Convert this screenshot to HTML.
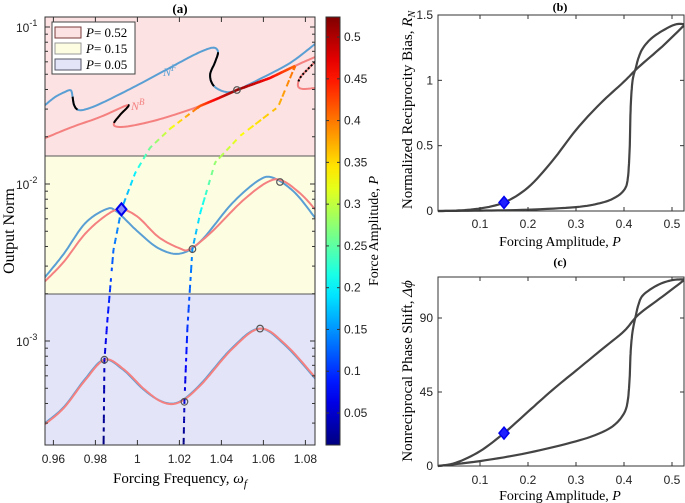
<!DOCTYPE html>
<html><head><meta charset="utf-8"><style>
html,body{margin:0;padding:0;background:#fff;}
svg{display:block;font-family:"Liberation Sans",sans-serif;}
.serif{font-family:"Liberation Serif",serif;}
</style></head><body>
<svg id="fig" width="685" height="503" viewBox="0 0 685 503" xmlns="http://www.w3.org/2000/svg">
<g id="pa">
 <rect x="45" y="17" width="270" height="139" fill="#fce2e2"/>
 <rect x="45" y="156" width="270" height="138" fill="#fdfde2"/>
 <rect x="45" y="294" width="270" height="151" fill="#e4e4f9"/>
 <line x1="45" y1="156" x2="315" y2="156" stroke="#555" stroke-width="1"/>
 <line x1="45" y1="294" x2="315" y2="294" stroke="#555" stroke-width="1"/>
</g>
<text x="180" y="13" text-anchor="middle" class="serif" font-weight="bold" font-size="13">(a)</text>
<text x="560" y="11" text-anchor="middle" class="serif" font-weight="bold" font-size="12">(b)</text>
<text x="560" y="266" text-anchor="middle" class="serif" font-weight="bold" font-size="12">(c)</text>
<text transform="translate(14,231) rotate(-90)" text-anchor="middle" class="serif" font-size="16">Output Norm</text>
<text x="180" y="483" text-anchor="middle" class="serif" font-size="15">Forcing Frequency, <tspan font-style="italic">ω</tspan><tspan font-style="italic" font-size="11" dy="4">f</tspan></text>
<text transform="translate(378,231) rotate(-90)" text-anchor="middle" class="serif" font-size="14">Force Amplitude,  <tspan font-style="italic">P</tspan></text>
<text transform="translate(412,110) rotate(-90)" text-anchor="middle" class="serif" font-size="15">Normalized Reciprocity Bias,  <tspan font-style="italic">R</tspan><tspan font-style="italic" font-size="10" dy="3">N</tspan></text>
<text x="560" y="246" text-anchor="middle" class="serif" font-size="14">Forcing Amplitude,  <tspan font-style="italic">P</tspan></text>
<text transform="translate(412,371) rotate(-90)" text-anchor="middle" class="serif" font-size="15">Nonreciprocal Phase Shift,  <tspan font-style="italic">Δϕ</tspan></text>
<text x="560" y="500" text-anchor="middle" class="serif" font-size="14">Forcing Amplitude,  <tspan font-style="italic">P</tspan></text>
<g id="dyn"></g>
</svg>
<script>
// ---------- data ----------
const xTicksA=[0.96,0.98,1.00,1.02,1.04,1.06,1.08];
const xTickLabelsA=["0.96","0.98","1","1.02","1.04","1.06","1.08"];
const yDecadesA=[-3,-2,-1];
const cbTicks=[0.05,0.1,0.15,0.2,0.25,0.3,0.35,0.4,0.45,0.5];
// P=0.05
const w005B=[0.956,0.965,0.975,0.984,0.993,1.003,1.012,1.020,1.030,1.045,1.058,1.070,1.085];
const n005B=[3.0e-4,3.8e-4,5.7e-4,7.6e-4,6.6e-4,4.9e-4,4.1e-4,4.1e-4,5.3e-4,9.0e-4,1.2e-3,9.5e-4,5.7e-4];
const w005R=[0.956,0.965,0.975,0.9845,0.9935,1.0035,1.0125,1.0205,1.0305,1.0455,1.0585,1.0705,1.085];
const n005R=[2.95e-4,3.75e-4,5.6e-4,7.6e-4,6.6e-4,4.9e-4,4.05e-4,4.1e-4,5.3e-4,9.0e-4,1.2e-3,9.5e-4,5.8e-4];
// P=0.15
const w015B=[0.956,0.965,0.975,0.985,0.990,1.000,1.010,1.020,1.030,1.045,1.058,1.065,1.075,1.085];
const n015B=[2.55e-3,3.6e-3,5.6e-3,6.9e-3,6.7e-3,5.0e-3,3.9e-3,3.6e-3,4.3e-3,7.5e-3,1.06e-2,1.09e-2,8.8e-3,6.0e-3];
const w015R=[0.956,0.965,0.975,0.985,0.992,1.000,1.010,1.020,1.025,1.035,1.050,1.062,1.069,1.078,1.085];
const n015R=[2.4e-3,3.2e-3,4.8e-3,6.3e-3,6.9e-3,6.2e-3,4.6e-3,3.9e-3,3.85e-3,4.9e-3,7.8e-3,1.03e-2,1.05e-2,8.6e-3,6.8e-3];
// P=0.52 forward (N^F)
const w052B=[0.956,0.9608,0.9655,0.9683,0.9691,0.9698,0.9715,0.9750,0.9822,0.9965,1.0108,1.0250,1.0322,1.0366,1.0384,1.0370,1.0346,1.0365,1.0420,1.0474,1.0584,1.0727,1.0846];
const n052B=[0.0318,0.0358,0.0386,0.0395,0.0360,0.0320,0.0298,0.0298,0.0324,0.0403,0.0509,0.0644,0.0714,0.0738,0.0690,0.0598,0.0494,0.0420,0.0386,0.0397,0.0467,0.0590,0.0780];
const fold052B=[[4,6],[14,17]];
// P=0.52 backward (N^B)
const w052R=[0.956,0.9679,0.9822,0.9955,0.9917,0.9889,0.9900,0.9965,1.0108,1.0298,1.0474,1.0631,1.0750,1.0846];
const n052R=[0.0196,0.0228,0.0267,0.0318,0.0275,0.0245,0.0232,0.0234,0.0259,0.0314,0.0397,0.0473,0.0565,0.0644];
const fold052R=[[3,5]];
const w052R2=[1.0846,1.0812,1.0774,1.0765,1.0789,1.0846];
const n052R2=[0.0600,0.0540,0.0473,0.0420,0.0403,0.0409];
// backbone loci (omega, N, P)
const wL1=[0.9839,0.9843,0.9857,0.9886,0.9924,0.9990,1.0060,1.0156,1.0298,1.0393,1.0474];
const nL1=[2.2e-4,7.6e-4,1.35e-3,3.8e-3,6.9e-3,1.18e-2,1.70e-2,2.25e-2,0.0314,0.0355,0.0397];
const pL1=[0.012,0.05,0.08,0.13,0.15,0.20,0.26,0.32,0.42,0.48,0.52];
const wL2=[1.0220,1.0224,1.0238,1.0262,1.0300,1.0370,1.0490,1.0670,1.0751,1.0631,1.0474];
const nL2=[2.2e-4,4.1e-4,1.2e-3,3.85e-3,6.6e-3,1.37e-2,2.03e-2,3.1e-2,0.0565,0.0473,0.0397];
const pL2=[0.012,0.05,0.10,0.15,0.20,0.28,0.33,0.37,0.41,0.46,0.52];
const circW=[0.9843,1.0224,1.0584,1.0262,1.0679,1.0474];
const circN=[7.6e-4,4.1e-4,1.2e-3,3.85e-3,1.03e-2,0.0397];
const diamW=[0.9924]; const diamN=[6.9e-3];
// panel b
const bP1=[0.0125,0.05,0.10,0.15,0.20,0.25,0.30,0.35,0.40,0.43,0.48,0.525];
const bR1=[0,0.003,0.02,0.065,0.18,0.38,0.62,0.82,0.99,1.10,1.26,1.42];
const bP2=[0.0125,0.10,0.20,0.30,0.35,0.38,0.40,0.408,0.412,0.414,0.418,0.425,0.43,0.44,0.46,0.49,0.51,0.525];
const bR2=[0,0.003,0.01,0.03,0.06,0.10,0.16,0.25,0.5,0.8,1.0,1.10,1.17,1.25,1.33,1.40,1.43,1.43];
const bDiamP=[0.15], bDiamR=[0.065];
const bXTicks=[0.1,0.2,0.3,0.4,0.5], bYTicks=[0,0.5,1,1.5], bYLabels=["0","0.5","1","1.5"];
// panel c
const cP1=[0.0125,0.05,0.10,0.15,0.20,0.25,0.30,0.35,0.40,0.43,0.48,0.525];
const cD1=[0,2,9,20,33,46,58,70,82,92,103,113];
const cP2=[0.0125,0.10,0.20,0.30,0.35,0.38,0.40,0.408,0.412,0.414,0.418,0.425,0.43,0.44,0.47,0.50,0.525];
const cD2=[0,3,8,15,20,25,32,40,55,70,82,92,98,104,110,113,113.5];
const cDiamP=[0.15], cDiamD=[20];
const cYTicks=[0,45,90];

// ---------- axes ----------
const NS="http://www.w3.org/2000/svg";
const G=document.getElementById('dyn');
function mk(tag,attrs,parent){const e=document.createElementNS(NS,tag);for(const k in attrs)e.setAttribute(k,attrs[k]);(parent||G).appendChild(e);return e;}
const ax=w=>45+(w-0.956)*2100;
const ay=n=>184-(Math.log10(n)+2)*157;
const bx=p=>438+(p-0.0125)*480;
const by=r=>211-r*(196/1.5);
const cx=bx;
const cy=d=>466-d*(74/45);
const cbPmin=0.0117,cbPmax=0.524;
const cby=p=>445-(p-cbPmin)/(cbPmax-cbPmin)*428;
function jet(p){const t=Math.max(0,Math.min(1,(p-cbPmin)/(cbPmax-cbPmin)));const c=v=>Math.round(255*Math.max(0,Math.min(1,1.5-Math.abs(4*t-v))));return `rgb(${c(3)},${c(2)},${c(1)})`;}
function cr(pts,n){
 const out=[];for(let i=0;i<pts.length-1;i++){const p0=pts[Math.max(0,i-1)],p1=pts[i],p2=pts[i+1],p3=pts[Math.min(pts.length-1,i+2)];
 for(let k=0;k<n;k++){const t=k/n,t2=t*t,t3=t2*t;const f=(a,b,c,d)=>0.5*((2*b)+(-a+c)*t+(2*a-5*b+4*c-d)*t2+(-a+3*b-3*c+d)*t3);out.push([f(p0[0],p1[0],p2[0],p3[0]),f(p0[1],p1[1],p2[1],p3[1])]);}}
 out.push(pts[pts.length-1]);return out;}
const pd=a=>'M'+a.map(p=>p[0].toFixed(1)+','+p[1].toFixed(1)).join('L');

const defs=mk('defs',{});
const cp=mk('clipPath',{id:'clipA'},defs);mk('rect',{x:45,y:17,width:270,height:428},cp);
const gA=mk('g',{'clip-path':'url(#clipA)'});



function curve(ws,ns,color,name,width){const pts=ws.map((w,i)=>[ax(w),ay(ns[i])]);const d=cr(pts,10);
 const e=mk('path',{d:pd(d),fill:'none',stroke:color,'stroke-width':width||2,'stroke-linejoin':'round'},gA);
 
 return pts;}
curve(w005B,n005B,'#5a9fd4','nf-curve-p005');
curve(w005R,n005R,'#f58080','nb-curve-p005');
curve(w015B,n015B,'#5a9fd4','nf-curve-p015');
curve(w015R,n015R,'#f58080','nb-curve-p015');
const pB=curve(w052B,n052B,'#5a9fd4','nf-curve-p052');
const pR=curve(w052R,n052R,'#f58080','nb-curve-p052');
curve(w052R2,n052R2,'#f58080','nb-curve-p052-upper-fold');
function fold(pts,rng,name){const d=cr(pts,10).slice(rng[0]*10,rng[1]*10+1);const e=mk('path',{d:pd(d),fill:'none',stroke:'#000','stroke-width':2},gA);
 
 }
fold052B.forEach(r=>fold(pB,r,'unstable-nf-segment'));
fold052R.forEach(r=>fold(pR,r,'unstable-nb-segment'));
{const pts=w052R2.map((w,i)=>[ax(w),ay(n052R2[i])]);const e=mk('path',{d:pd(cr(pts,10).slice(0,26)),fill:'none',stroke:'#000','stroke-width':2,'stroke-dasharray':'2 2'},gA);
 
 }

function locus(ws,ns,ps,name,dashEnd){const pts=ws.map((w,i)=>[ax(w),ay(ns[i]),ps[i]]);
 const dense=[];for(let i=0;i<pts.length-1;i++){const a=pts[i],b=pts[i+1];for(let k=0;k<20;k++){const t=k/20;dense.push([a[0]+(b[0]-a[0])*t,a[1]+(b[1]-a[1])*t,a[2]+(b[2]-a[2])*t]);}}
 dense.push(pts[pts.length-1]);
 const g=mk('g',{},gA);
 
 
 let s=0;for(let i=0;i<dense.length-1;i++){const a=dense[i],b=dense[i+1];const L=Math.hypot(b[0]-a[0],b[1]-a[1]);
  const solid=a[2]>=dashEnd;const on=solid||(s%10)<6;s+=L;
  if(on)mk('line',{x1:a[0],y1:a[1],x2:b[0],y2:b[1],stroke:jet(a[2]),'stroke-width':solid?2.6:2},g);}}
locus(wL1,nL1,pL1,'backbone-locus-1',0.41);
locus(wL2,nL2,pL2,'backbone-locus-2',0.405);

circW.forEach((w,i)=>{const c=mk('circle',{cx:ax(w),cy:ay(circN[i]),r:3.3,fill:'none',stroke:'#555','stroke-width':1.2},gA);
 
 });
diamW.forEach((w,i)=>{const X=ax(w),Y=ay(diamN[i]);const d=mk('path',{d:`M${X},${Y-6}L${X+5},${Y}L${X},${Y+6}L${X-5},${Y}Z`,fill:'#8888ff',stroke:'#0000ee','stroke-width':2},gA);
 
 });

{const t=mk('text',{x:163,y:76,fill:'#5a9fd4','font-size':12,'font-style':'italic',class:'serif'});t.innerHTML='N<tspan dy="-5" font-size="9">F</tspan>';
 
 
 const u=mk('text',{x:131,y:110,fill:'#f58080','font-size':12,'font-style':'italic',class:'serif'});u.innerHTML='N<tspan dy="-5" font-size="9">B</tspan>';
 
 }

function frame(x0,y0,x1,y1,name){const r=mk('rect',{x:x0,y:y0,width:x1-x0,height:y1-y0,fill:'none',stroke:'#333','stroke-width':1});
 
 }
frame(45,17,315,445,'axes-frame-a');
xTicksA.forEach((v,i)=>{const X=ax(v);mk('line',{x1:X,y1:445,x2:X,y2:440,stroke:'#333'});mk('line',{x1:X,y1:17,x2:X,y2:22,stroke:'#333'});
 const t=mk('text',{x:X,y:463,'text-anchor':'middle','font-size':12,fill:'#222'});t.textContent=xTickLabelsA[i];
 
 });
for(let d=-4;d<=-1;d++)for(let k=1;k<=9;k++){const v=k*Math.pow(10,d);const Y=ay(v);if(Y<17||Y>445)continue;const len=k==1?5:3;
 mk('line',{x1:45,y1:Y,x2:45+len,y2:Y,stroke:'#333'});mk('line',{x1:315,y1:Y,x2:315-len,y2:Y,stroke:'#333'});}
yDecadesA.forEach(d=>{const Y=ay(Math.pow(10,d));const t=mk('text',{x:16,y:Y+5,'font-size':12,fill:'#222'});t.innerHTML='10<tspan dy="-6" font-size="9">'+d+'</tspan>';
 
 });

{const g=mk('g',{});
 
 
 mk('rect',{x:52,y:22,width:83,height:52,fill:'#fff',stroke:'#444','stroke-width':1},g);
 const items=[['#fce2e2','#7a3a3a','0.52'],['#fdfde2','#999','0.15'],['#e4e4f9','#556','0.05']];
 items.forEach((it,i)=>{const y=27+i*16;mk('rect',{x:55,y:y,width:26,height:11,fill:it[0],stroke:it[1],'stroke-width':1},g);
  const t=mk('text',{x:86,y:y+10,'font-size':13,class:'serif'},g);t.innerHTML='<tspan font-style="italic">P</tspan>= '+it[2];
  
  });}

{const lg=mk('linearGradient',{id:'jet',x1:0,y1:1,x2:0,y2:0},defs);
 for(let i=0;i<=20;i++){const p=cbPmin+(cbPmax-cbPmin)*i/20;mk('stop',{offset:i/20,'stop-color':jet(p)},lg);}
 const r=mk('rect',{x:326,y:17,width:14,height:428,fill:'url(#jet)',stroke:'#333','stroke-width':1});
 
 
 cbTicks.forEach(v=>{const Y=cby(v);mk('line',{x1:326,y1:Y,x2:329,y2:Y,stroke:'#333'});mk('line',{x1:340,y1:Y,x2:337,y2:Y,stroke:'#333'});
  const t=mk('text',{x:344,y:Y+4,'font-size':12,fill:'#222'});t.textContent=String(v);
  
  });}

function line2(xs,ys,fx,fy,name){const pts=xs.map((x,i)=>[fx(x),fy(ys[i])]);const e=mk('path',{d:pd(cr(pts,8)),fill:'none',stroke:'#444','stroke-width':2.2});
 
 }
function diam(X,Y,name){const d=mk('path',{d:`M${X},${Y-6}L${X+5},${Y}L${X},${Y+6}L${X-5},${Y}Z`,fill:'#2020ff',stroke:'#0000ee','stroke-width':1.5});
 
 }
line2(bP1,bR1,bx,by,'rn-upper-branch');line2(bP2,bR2,bx,by,'rn-lower-branch');
diam(bx(bDiamP[0]),by(bDiamR[0]),'rn-marker');
frame(438,15,684,211,'axes-frame-b');
line2(cP1,cD1,cx,cy,'phase-upper-branch');line2(cP2,cD2,cx,cy,'phase-lower-branch');
diam(cx(cDiamP[0]),cy(cDiamD[0]),'phase-marker');
frame(438,277,684,466,'axes-frame-c');
bXTicks.forEach(v=>{[[211,15,224],[466,277,480]].forEach(a=>{const X=bx(v);mk('line',{x1:X,y1:a[0],x2:X,y2:a[0]-4,stroke:'#333'});mk('line',{x1:X,y1:a[1],x2:X,y2:a[1]+4,stroke:'#333'});
 const t=mk('text',{x:X,y:a[2]+4,'text-anchor':'middle','font-size':12,fill:'#222'});t.textContent=String(v);
 
 });});
bYTicks.forEach((v,i)=>{const Y=by(v);mk('line',{x1:438,y1:Y,x2:442,y2:Y,stroke:'#333'});mk('line',{x1:684,y1:Y,x2:680,y2:Y,stroke:'#333'});
 const t=mk('text',{x:433,y:Y+4,'text-anchor':'end','font-size':12,fill:'#222'});t.textContent=bYLabels[i];
 
 });
cYTicks.forEach(v=>{const Y=cy(v);mk('line',{x1:438,y1:Y,x2:442,y2:Y,stroke:'#333'});mk('line',{x1:684,y1:Y,x2:680,y2:Y,stroke:'#333'});
 const t=mk('text',{x:433,y:Y+4,'text-anchor':'end','font-size':12,fill:'#222'});t.textContent=String(v);
 
 });
</script>
</body></html>
